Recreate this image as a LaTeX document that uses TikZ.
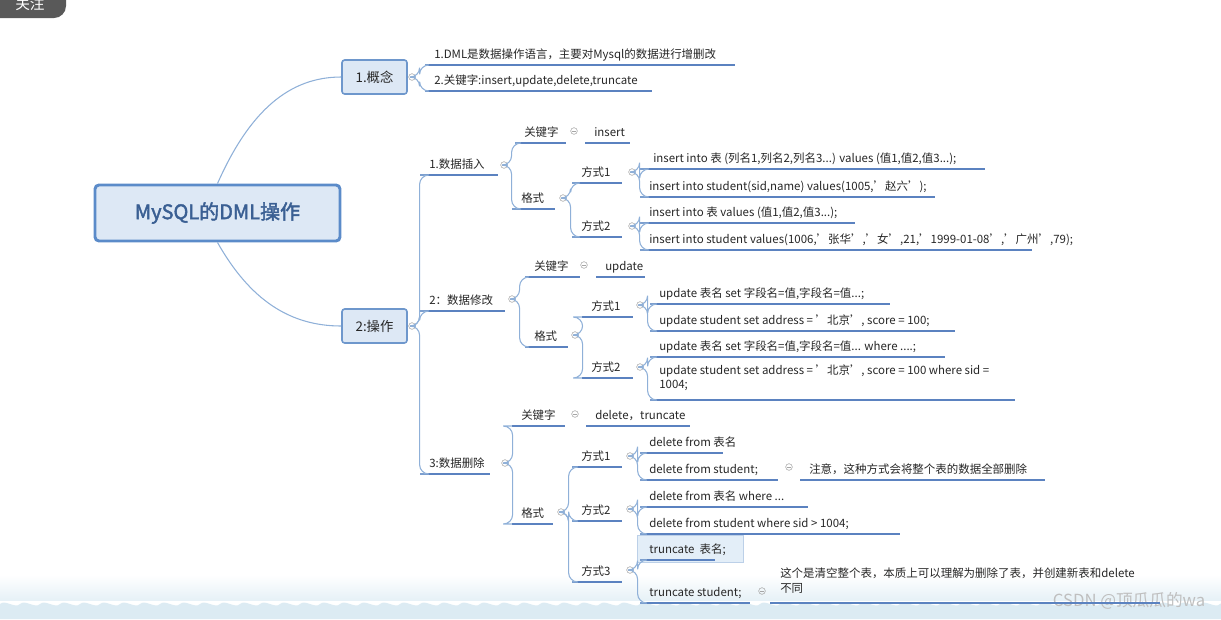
\documentclass[tikz,border=0pt]{standalone}
\usepackage{fontspec}
\setmainfont{Noto Sans CJK SC}[AutoFakeBold=2]
\definecolor{ulc}{HTML}{5B82C0}
\definecolor{cnc}{HTML}{8FB0D8}
\definecolor{boxf}{HTML}{DDE8F5}
\definecolor{boxd}{HTML}{6E97CC}
\definecolor{rootd}{HTML}{5B8BC9}
\definecolor{roott}{HTML}{3A5F93}
\definecolor{wave}{HTML}{DCEBF3}
\definecolor{hl}{HTML}{E3EEF8}
\newcommand\q{\symbol{39}}
\tikzset{
 ul/.style={draw=ulc,line width=1.5pt},
 txt/.style={inner sep=0pt,font=\fontsize{8.6}{11}\selectfont,text=black!85},
 mk/.style={circle,draw=gray!70,inner sep=0pt,minimum size=5pt,line width=0.4pt,
   path picture={\draw[gray!70,line width=0.4pt] ([xshift=1.2pt]path picture bounding box.west) -- ([xshift=-1.2pt]path picture bounding box.east);}},
 conn/.style={draw=cnc,line width=0.8pt,rounded corners=7pt},
 topbox/.style={draw=boxd,fill=boxf,line width=1.2pt,rounded corners=2pt,font=\fontsize{10}{12}\selectfont,text=black!85}
}
\newcommand\tl[5]{%
 \coordinate (#1s) at (#2,#4); \coordinate (#1e) at (#3,#4);
 \draw[ul] (#1s)--(#1e);
 \node[txt,anchor=base west] (#1) at (#2+9,#4-7) {#5};}
\newcommand\mkk[3]{\node[mk] (#1) at (#2,#3) {};}
\newcommand\cn[2]{\draw[conn] (#1.east) -- ++(4,0) |- (#2s);}
\begin{document}
\begin{tikzpicture}[x=0.75pt,y=-0.75pt]
\useasboundingbox (0,0) rectangle (1221,619);
% bottom band
\shade[top color=white,bottom color=wave!70] (0,575) rectangle (1221,600);
\fill[wave] (0,604) \foreach \i in {0,20,...,1220}{ .. controls (\i+5,599) and (\i+15,609) .. (\i+20,604)} -- (1221,619) -- (0,619) -- cycle;
\node[anchor=east,font=\fontsize{12.5}{14}\selectfont,text=gray!50] (wm) at (1210,601) {CSDN @顶瓜瓜的wa};
% top-left tab
\begin{scope}
\clip (0,0) rectangle (1221,619);
\fill[black!65,rounded corners=9pt] (-20,-20) rectangle (66,18);
\node[text=white,font=\fontsize{11}{13}\selectfont] (tab) at (30,4) {关注};
\end{scope}
% root
\node[draw=rootd,fill=boxf,line width=2.2pt,rounded corners=3pt,minimum width=183.75pt,minimum height=42pt,
 font=\fontsize{15}{18}\selectfont\bfseries,text=roott] (root) at (217.5,213) {MySQL的DML操作};
\node[topbox,minimum width=48.75pt,minimum height=25.5pt] (g1) at (374.5,77) {1.概念};
\node[topbox,minimum width=48.75pt,minimum height=25.5pt] (g2) at (374.5,326) {2:操作};
\draw[conn] (root.north) .. controls (250,110) and (290,77) .. (g1.west);
\draw[conn] (root.south) .. controls (250,300) and (290,326) .. (g2.west);
% concept
\mkk{m1}{412}{77}
\tl{c1}{425}{735}{65}{1.DML是数据操作语言，主要对Mysql的数据进行增删改}
\tl{c2}{425}{652}{91}{2.关键字:insert,update,delete,truncate}
\cn{m1}{c1}\cn{m1}{c2}
% operation
\mkk{m2}{412}{326}
\tl{a1}{420}{498}{175}{1.数据插入}
\tl{a2}{420}{505}{311}{2：数据修改}
\tl{a3}{420}{490}{474}{3:数据删除}
\cn{m2}{a1}\cn{m2}{a2}\cn{m2}{a3}
% insert
\mkk{ma1}{504}{165}
\tl{b1}{515}{566}{143}{关键字}\mkk{mb1}{574}{131}\tl{b1v}{585}{630}{143}{insert}
\tl{b2}{512}{555}{209}{格式}\mkk{mb2}{563}{198}
\cn{ma1}{b1}\cn{ma1}{b2}
\tl{f1}{572}{622}{183}{方式1}\mkk{mf1}{632}{172}
\tl{f2}{572}{622}{237}{方式2}\mkk{mf2}{632}{226}
\cn{mb2}{f1}\cn{mb2}{f2}
\tl{l1}{640}{985}{169}{\hspace{3pt}insert into 表 (列名1,列名2,列名3...) values (值1,值2,值3...);}
\tl{l2}{640}{935}{197}{insert into student(sid,name) values(1005,\q{}赵六\q{});}
\tl{l3}{640}{855}{223}{insert into 表 values (值1,值2,值3...);}
\tl{l4}{640}{1032}{250}{insert into student values(1006,\q{}张华\q{},\q{}女\q{},21,\q{}1999-01-08\q{},\q{}广州\q{},79);}
\cn{mf1}{l1}\cn{mf1}{l2}\cn{mf2}{l3}\cn{mf2}{l4}
% update
\mkk{ma2}{512}{299}
\tl{u1}{525}{580}{277}{关键字}\mkk{mu1}{584}{265}\tl{u1v}{596}{645}{277}{update}
\tl{u2}{525}{568}{347}{格式}\mkk{mu2}{575}{335}
\cn{ma2}{u1}\cn{ma2}{u2}
\tl{g1f}{582}{633}{317}{方式1}\mkk{mg1}{640}{305}
\tl{g2f}{582}{633}{378}{方式2}\mkk{mg2}{640}{367}
\cn{mu2}{g1f}\cn{mu2}{g2f}
\tl{n1}{650}{890}{304}{update 表名 set 字段名=值,字段名=值...;}
\tl{n2}{650}{955}{331}{update student set address = \q{}北京\q{}, score = 100;}
\tl{n3}{650}{945}{357}{update 表名 set 字段名=值,字段名=值... where ....;}
\coordinate (n4s) at (650,400); \coordinate (n4e) at (1015,400);
\draw[ul] (n4s)--(n4e);
\node[txt,anchor=north west,align=left] (n4) at (659,364) {update student set address = \q{}北京\q{}, score = 100 where sid =\\1004;};
\cn{mg1}{n1}\cn{mg1}{n2}\cn{mg2}{n3}\cn{mg2}{n4}
% delete
\mkk{ma3}{505}{463}
\tl{d1}{512}{565}{426}{关键字}\mkk{md1}{575}{414}\tl{d1v}{586}{690}{426}{delete，truncate}
\tl{d2}{512}{553}{524}{格式}\mkk{md2}{561}{512}
\cn{ma3}{d1}\cn{ma3}{d2}
\tl{h1}{572}{622}{467}{方式1}\mkk{mh1}{630}{456}
\tl{h2}{572}{622}{521}{方式2}\mkk{mh2}{630}{509}
\tl{h3}{572}{622}{582}{方式3}\mkk{mh3}{630}{570}
\cn{md2}{h1}\cn{md2}{h2}\cn{md2}{h3}
\tl{e1}{640}{723}{453}{delete from 表名}
\tl{e2}{640}{778}{480}{delete from student;}\mkk{me2}{789}{467}
\tl{e2n}{800}{1045}{480}{注意，这种方式会将整个表的数据全部删除}
\tl{e3}{640}{808}{507}{delete from 表名 where ...}
\tl{e4}{640}{900}{534}{delete from student where sid \textgreater{} 1004;}
\fill[hl,draw=cnc!60,line width=0.4pt] (637,535) rectangle (743,562);
\tl{e5}{640}{715}{560}{truncate\ \ 表名;}
\tl{e6}{640}{750}{603}{truncate student;}\mkk{me6}{762}{591}
\coordinate (e6ns) at (770,603); \coordinate (e6ne) at (1160,603);
\draw[ul] (e6ns)--(e6ne);
\node[txt,anchor=north west,align=left] (e6n) at (780,568) {这个是清空整个表，本质上可以理解为删除了表，并创建新表和delete\\不同};
\cn{mh1}{e1}\cn{mh1}{e2}\cn{mh2}{e3}\cn{mh2}{e4}\cn{mh3}{e5}\cn{mh3}{e6}
\end{tikzpicture}
\end{document}
